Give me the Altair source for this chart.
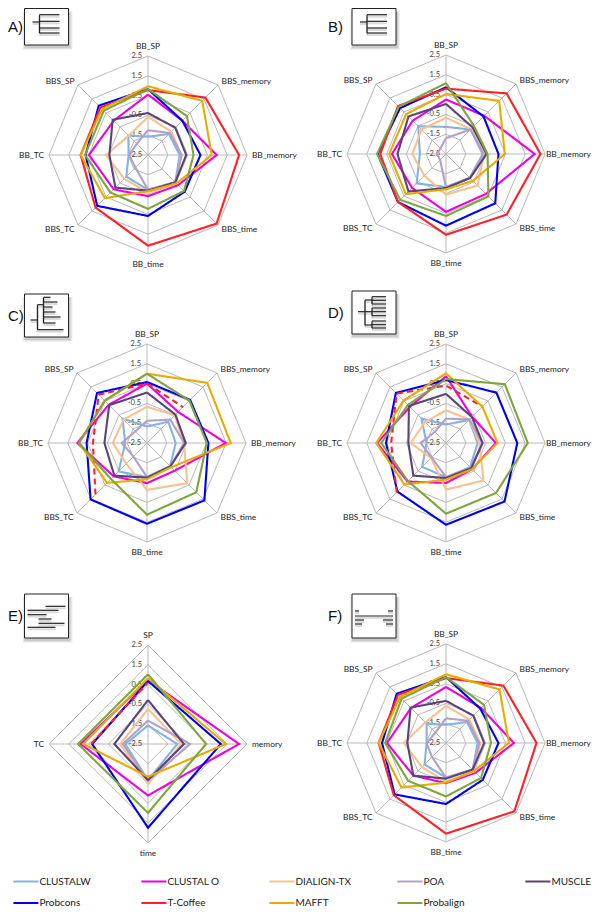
import math
import altair as alt
import pandas as pd

methods = ["CLUSTALW", "CLUSTAL O", "DIALIGN-TX", "POA", "MUSCLE", "Probcons", "T-Coffee", "MAFFT", "Probalign"]
colors = ["#85b2e4", "#f000e0", "#fac090", "#b1a0c7", "#5b4378", "#0000f0", "#ff2028", "#e8ac00", "#7fa63d"]

ticks = [2.5, 1.5, 0.5, -0.5, -1.5, -2.5]
rings = [2.5, 1.5, 0.5, -0.5, -1.5]
axes8 = ["BB_SP", "BBS_memory", "BB_memory", "BBS_time", "BB_time", "BBS_TC", "BB_TC", "BBS_SP"]
axes4 = ["SP", "memory", "time", "TC"]

# values per method, clockwise from the top axis; None = not available
panel_a = [
    [-1.58, -1.0, -0.9, -0.55, -0.75, -0.95, -1.52, -1.1],
    [0.55, -0.05, 0.97, -0.35, -0.42, -0.05, 0.48, -0.05],
    [-0.58, -0.83, -0.82, -0.5, -0.62, -0.8, -0.38, -1.12],
    [-1.25, -0.93, -0.8, -0.55, -0.75, -1.6, -1.55, -1.7],
    [-0.38, -0.55, -0.57, -0.55, -0.7, -0.17, -0.55, 0.02],
    [0.83, -0.05, 0.15, 0.12, 0.58, 1.13, 0.65, 1.02],
    [0.78, 1.6, 2.1, 2.4, 2.08, 1.25, 0.9, 0.9],
    [0.97, 1.37, 0.72, -0.47, -0.67, 0.58, 0.9, 0.78],
    [0.83, 0.28, -0.2, 0.07, 0.22, 0.18, 0.68, 0.66],
]
panel_b = [
    [-1.13, -0.75, -0.65, -0.8, -0.83, -0.4, -1.18, -0.52],
    [0.25, 0.23, 1.98, 0.35, 0.42, -0.08, 0.23, -0.12],
    [-0.67, -0.72, -0.57, -0.25, -0.45, -0.95, -0.8, -0.75],
    [-1.7, -0.75, -0.6, -0.8, -0.83, -2.08, -2.05, -2.1],
    [0.03, -0.6, -0.45, -0.78, -0.78, 0.18, -0.05, 0.18],
    [0.87, 0.18, 0.15, 1.02, 1.12, 0.93, 0.95, 0.78],
    [0.8, 1.83, 2.27, 1.83, 1.58, 0.93, 0.82, 0.93],
    [0.53, 1.3, 0.47, -0.58, -0.72, 0.37, 0.37, 0.35],
    [1.08, -0.5, -0.4, 0.53, 0.63, 0.77, 0.98, 0.88],
]
panel_c = [
    [-1.67, -0.98, -1.05, -0.85, -0.78, -0.47, -1.4, -0.75],
    [0.5, -0.28, 1.48, -0.52, -0.47, -0.12, 1.02, 0.23],
    [-0.67, -0.52, -0.63, 0.37, -0.13, -1.02, -0.77, -0.83],
    [-1.38, -0.83, -0.63, -0.83, -0.78, -1.53, -1.23, -1.67],
    [0.05, -0.47, -0.55, -0.83, -0.75, -0.17, -0.35, 0.2],
    [0.58, 0.58, 0.6, 1.6, 1.58, 1.53, 0.55, 1.07],
    [0.5, 0.07, None, None, None, 1.18, 0.23, 0.95],
    [1.0, 1.8, 1.73, -0.77, -0.67, 0.35, 0.93, 0.52],
    [1.0, 0.53, 0.52, 1.02, 1.12, 0.07, 0.93, 0.52],
]
panel_d = [
    [-1.57, -0.85, -0.9, -0.78, -0.77, -0.8, -1.52, -0.75],
    [0.87, -0.63, 0.02, -0.63, -0.48, 0.25, 0.98, 0.08],
    [-0.85, -0.82, -0.82, 0.18, -0.15, -1.43, -0.72, -1.0],
    [-1.27, -0.82, -0.68, -0.72, -0.78, -1.47, -1.22, -1.7],
    [-0.02, -0.65, -0.65, -0.7, -0.73, -0.17, -0.6, 0.15],
    [0.68, 1.1, 1.1, 1.68, 1.63, 0.97, 0.53, 1.08],
    [0.4, 0.1, None, None, None, 1.02, 0.27, 1.03],
    [1.02, 0.1, 0.1, -0.63, -0.65, 0.47, 1.02, 0.53],
    [0.73, 1.7, 1.63, 1.07, 1.07, 0.22, 0.77, 0.22],
]
panel_e = [
    [-1.57, -1.02, -0.67, -1.35],
    [0.72, 2.1, 0.1, 0.9],
    [-0.73, -0.82, -0.48, -1.1],
    [-1.32, -0.37, -0.65, -1.23],
    [-0.28, -0.68, -0.68, -0.8],
    [0.68, 1.18, 1.73, 0.32],
    [0.6, None, None, 0.37],
    [0.82, 1.43, -0.85, 0.77],
    [1.02, 0.43, 0.98, 1.03],
]
panel_f = [
    [-1.58, -1.0, -0.9, -0.6, -0.75, -0.97, -1.52, -1.12],
    [0.33, 0.0, 0.93, -0.38, -0.47, -0.17, 0.48, 0.0],
    [-0.62, -0.83, -0.77, -0.47, -0.55, -0.78, -0.38, -1.03],
    [-1.25, -0.92, -0.82, -0.6, -0.75, -1.5, -1.52, -1.75],
    [-0.37, -0.55, -0.57, -0.6, -0.7, -0.17, -0.55, 0.03],
    [0.83, -0.05, 0.15, 0.13, 0.58, 1.17, 0.73, 1.02],
    [0.78, 1.6, 2.07, 2.38, 2.08, 1.23, 0.9, 0.93],
    [0.97, 1.32, 0.68, -0.5, -0.5, 0.68, 0.9, 0.78],
    [0.83, 0.22, -0.23, 0.0, 0.2, 0.2, 0.57, 0.67],
]

# little tree / alignment icons, (x1, x2, y1, y2) in pixels inside a 44x43 box
icon_star = [(8, 15, 20, 20), (15, 15, 12.7, 31), (15, 35, 12.7, 12.7), (15, 35, 19.3, 19.3),
             (15, 35, 26, 26), (15, 35, 31, 31)]
icon_ladder = [(6, 13, 26, 26), (13, 13, 10.7, 35.7), (13, 39, 35.7, 35.7), (13, 19, 10.7, 10.7),
               (19, 19, 3.3, 29), (19, 26, 3.3, 3.3), (19, 33, 8, 8), (19, 28, 13, 13),
               (19, 31, 18, 18), (19, 36, 23, 23), (19, 31, 29, 29)]
icon_groups = [(6, 13, 20.7, 20.7), (13, 13, 9, 34), (13, 20, 9, 9), (13, 20, 20.7, 20.7), (13, 20, 34, 34),
               (20, 20, 5.7, 13), (20, 20, 17, 24.7), (20, 20, 30, 37),
               (20, 34, 5.7, 5.7), (20, 34, 9.3, 9.3), (20, 34, 13, 13),
               (20, 34, 17, 17), (20, 34, 20.7, 20.7), (20, 34, 24.7, 24.7),
               (20, 34, 30, 30), (20, 34, 33.7, 33.7), (20, 34, 37, 37)]
icon_blocks = [(21, 41, 11.3, 11.3), (3, 34, 15.3, 15.3), (3, 22, 19.7, 19.7),
               (14, 27, 24, 24), (14, 40, 28.3, 28.3), (3, 31, 32.3, 32.3)]
icon_ends = [(3, 41, 21, 21), (3, 7, 16, 16), (36, 41, 16, 16), (3, 12, 25, 25), (31, 41, 25, 25),
             (3, 10, 29, 29), (34, 41, 29, 29)]

UNIT = 19.8  # pixels per one unit of the radar axis
WIDTH = 584
HEIGHT = 901
FONT = "Lato"

# letter, axes, values, icon, centre x/y, icon box x/y/height
panels = [
    ("A)", axes8, panel_a, icon_star, 148, 155, 24.5, 8.5, 36.5),
    ("B)", axes8, panel_b, icon_star, 446, 154, 352, 8.5, 36.5),
    ("C)", axes8, panel_c, icon_ladder, 147, 443, 24.5, 294, 43),
    ("D)", axes8, panel_d, icon_groups, 446, 443, 352, 291, 43),
    ("E)", axes4, panel_e, icon_blocks, 148, 744, 24.5, 594, 44),
    ("F)", axes8, panel_f, icon_ends, 446, 743, 352, 594, 44),
]

# every panel shares one pair of scales, in radar units from the top left of the page
pos_x = alt.X("x:Q", scale=alt.Scale(domain=[8 / UNIT, (8 + WIDTH) / UNIT], nice=False, zero=False), axis=None)
pos_y = alt.Y("y:Q", scale=alt.Scale(domain=[(8 + HEIGHT) / UNIT, 8 / UNIT], nice=False, zero=False), axis=None)

grid_rows, tick_rows, series_rows, label_rows = [], [], [], []
box_rows, seg_rows, tag_rows = [], [], []

for p, (letter, axes, values, icon, cx, cy, box_x, box_y, box_h) in enumerate(panels):
    n = len(axes)
    angle = [2 * math.pi * i / n for i in range(n)]

    def polar(v, i):
        r = v + 2.5
        return cx / UNIT + r * math.sin(angle[i]), cy / UNIT - r * math.cos(angle[i])

    for k, ring in enumerate(rings):
        for i in range(n + 1):
            x, y = polar(ring, i % n)
            grid_rows.append({"id": f"{p}r{k}", "o": i, "x": x, "y": y})
    for i in range(n):
        x, y = polar(2.5, i)
        x0, y0 = polar(-2.5, i)
        grid_rows.append({"id": f"{p}s{i}", "o": 0, "x": x0, "y": y0})
        grid_rows.append({"id": f"{p}s{i}", "o": 1, "x": x, "y": y})

    for t in ticks:
        x, y = polar(t, 0)
        tick_rows.append({"x": x, "y": y, "t": f"{t:.1f}"})

    for name, vals in zip(methods, values):
        start = 0
        closed = None not in vals
        if not closed:
            # open line: begin right after the gap
            start = (max(i for i, v in enumerate(vals) if v is None) + 1) % n
        for o in range(n + 1 if closed else n):
            i = (start + o) % n
            if vals[i] is None:
                continue
            x, y = polar(vals[i], i)
            series_rows.append({"panel": p, "method": name, "o": o, "x": x, "y": y, "dash": "s" if closed else "d"})

    for i, name in enumerate(axes):
        x, y = polar(2.75, i)
        s = math.sin(angle[i])
        align = "left" if s > 0.01 else ("right" if s < -0.01 else "center")
        dy = 0
        if align == "center":
            dy = -5 if math.cos(angle[i]) > 0 else 5
        # the right column has no room left for the east label
        if cx > 300 and s > 0.99:
            x -= 4 / UNIT
        label_rows.append({"x": x, "y": y, "name": name, "align": align, "dy": dy})

    box_rows.append({"x": box_x / UNIT, "x2": (box_x + 44) / UNIT, "y": box_y / UNIT, "y2": (box_y + box_h) / UNIT})
    shift = 43 - box_h
    for a, b, c, d in icon:
        seg_rows.append({"x": (box_x + a) / UNIT, "x2": (box_x + b) / UNIT,
                         "y": (box_y + c - shift) / UNIT, "y2": (box_y + d - shift) / UNIT})
    tag_x = box_x - 24 if box_x > 300 else 8
    tag_rows.append({"x": tag_x / UNIT, "y": (box_y + box_h / 2) / UNIT, "t": letter})

layers = []

# box shadows, a few stacked see-through rects
box_df = pd.DataFrame(box_rows)
for grow, op in [(3, 0.05), (2, 0.07), (1, 0.09)]:
    sh = box_df.copy()
    sh["x"] = sh["x"] - (grow - 1) / UNIT
    sh["x2"] = sh["x2"] + (grow + 1) / UNIT
    sh["y"] = sh["y"] + 3 / UNIT
    sh["y2"] = sh["y2"] + (grow + 2) / UNIT
    layers.append(alt.Chart(sh).mark_rect(color="#000000", opacity=op).encode(x=pos_x, x2="x2:Q", y=pos_y, y2="y2:Q"))
layers.append(alt.Chart(box_df).mark_rect(fill="white", stroke="#222222", strokeWidth=1).encode(
    x=pos_x, x2="x2:Q", y=pos_y, y2="y2:Q"))

seg_df = pd.DataFrame(seg_rows)
seg_shade = seg_df.copy()
seg_shade["y"] = seg_shade["y"] + 2 / UNIT
seg_shade["y2"] = seg_shade["y2"] + 2 / UNIT
layers.append(alt.Chart(seg_shade).mark_rule(color="#000000", opacity=0.14, strokeWidth=2).encode(
    x=pos_x, x2="x2:Q", y=pos_y, y2="y2:Q"))
layers.append(alt.Chart(seg_df).mark_rule(color="#222222", strokeWidth=1.2).encode(
    x=pos_x, x2="x2:Q", y=pos_y, y2="y2:Q"))
layers.append(alt.Chart(pd.DataFrame(tag_rows)).mark_text(
    align="left", font="Liberation Sans", fontSize=15, color="#111111").encode(x=pos_x, y=pos_y, text="t:N"))

layers.append(alt.Chart(pd.DataFrame(grid_rows)).mark_line(color="#b9b9b9", strokeWidth=1, strokeJoin="miter").encode(
    x=pos_x, y=pos_y, detail="id:N", order="o:Q"))
layers.append(alt.Chart(pd.DataFrame(tick_rows)).mark_text(
    align="right", dx=-6, font=FONT, fontSize=7.5, color="#444444").encode(x=pos_x, y=pos_y, text="t:N"))

method_color = alt.Color("method:N", scale=alt.Scale(domain=methods, range=colors), legend=None)
layers.append(alt.Chart(pd.DataFrame(series_rows)).mark_line(strokeWidth=2.1, strokeJoin="miter", strokeCap="butt").encode(
    x=pos_x, y=pos_y, order="o:Q", detail="panel:N", color=method_color,
    strokeDash=alt.StrokeDash("dash:N", scale=alt.Scale(domain=["s", "d"], range=[[1, 0], [6, 4]]), legend=None)))

label_df = pd.DataFrame(label_rows)
for (align, dy), grp in label_df.groupby(["align", "dy"]):
    layers.append(alt.Chart(grp).mark_text(align=align, dy=int(dy), font=FONT, fontSize=8.4, color="#222222").encode(
        x=pos_x, y=pos_y, text="name:N"))

# legend, five columns and two rows
legend_col = [0, 1, 2, 3, 4, 0, 1, 2, 3]
legend_row = [0, 0, 0, 0, 0, 1, 1, 1, 1]
legend_df = pd.DataFrame({"method": methods, "col": legend_col, "row": legend_row})
legend_df["x"] = (13.4 + 128 * legend_df["col"]) / UNIT
legend_df["x2"] = legend_df["x"] + 25 / UNIT
legend_df["y"] = (881.5 + 21.5 * legend_df["row"]) / UNIT
layers.append(alt.Chart(legend_df).mark_rule(strokeWidth=2).encode(x=pos_x, x2="x2:Q", y=pos_y, color=method_color))
layers.append(alt.Chart(legend_df).mark_text(align="left", dx=26, font=FONT, fontSize=10, color="#222222").encode(
    x=pos_x, y=pos_y, text="method:N"))

chart = alt.layer(*layers).properties(
    width=WIDTH, height=HEIGHT, padding=0, background="white",
    autosize=alt.AutoSizeParams(type="none")
).configure_view(stroke=None)

chart.save("out.html", embed_options={"renderer": "svg", "actions": False})
